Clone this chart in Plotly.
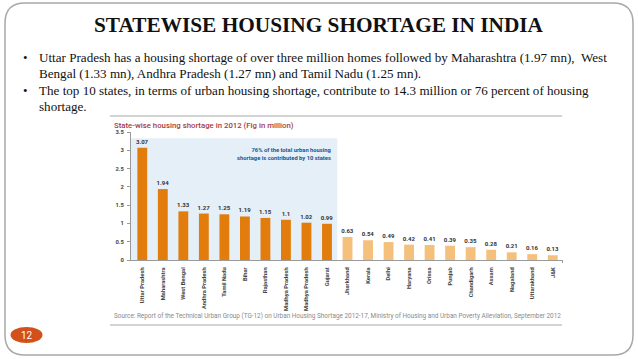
import plotly.graph_objects as go

states = ["Uttar Pradesh", "Maharashtra", "West Bengal", "Andhra Pradesh", "Tamil Nadu",
          "Bihar", "Rajasthan", "Madhya Pradesh", "Madhya Pradesh", "Gujarat",
          "Jharkhand", "Kerala", "Delhi", "Haryana", "Orissa", "Punjab",
          "Chandigarh", "Assam", "Nagaland", "Uttarakhand", "J&K"]
shortage = [3.07, 1.94, 1.33, 1.27, 1.25, 1.19, 1.15, 1.1, 1.02, 0.99,
            0.63, 0.54, 0.49, 0.42, 0.41, 0.39, 0.35, 0.28, 0.21, 0.16, 0.13]
top_n = 10
y_ticks = [0, 0.5, 1, 1.5, 2, 2.5, 3, 3.5]
y_tick_labels = ["0", "0.5", "1", "1.5", "2", "2.5", "3", "3.5"]

slide_title = "STATEWISE HOUSING SHORTAGE IN INDIA"
bullet_lines = [
    "Uttar Pradesh has a housing shortage of over three million homes followed by Maharashtra (1.97 mn),  West",
    "Bengal (1.33 mn), Andhra Pradesh (1.27 mn) and Tamil Nadu (1.25 mn).",
    "The top 10 states, in terms of urban housing shortage, contribute to 14.3 million or 76 percent of housing",
    "shortage.",
]
chart_title = "State-wise housing shortage in 2012 (Fig in million)"
callout = "76% of the total urban housing<br>shortage is contributed by 10 states"
source = ("Source: Report of the Technical Urban Group (TG-12) on Urban Housing Shortage 2012-17, "
          "Ministry of Housing and Urban Poverty Alleviation, September 2012")
page_no = "12"

W, H = 638, 359
L, R, T, B = 131, 75, 132, 99
PW, PH = W - L - R, H - T - B


def px(x):
    return (x - L) / PW


def py(y):
    return (H - B - y) / PH


idx = list(range(len(states)))
colors = ["#E27C0C" if i < top_n else "#F4C07C" for i in idx]

fig = go.Figure()
fig.add_trace(go.Bar(
    x=idx, y=shortage, marker=dict(color=colors, line=dict(width=0)),
    width=0.48,
    text=[f"{v:g}" for v in shortage], textposition="outside",
    textfont=dict(family="Roboto", size=6, color="#333333"),
    texttemplate="<b>%{text}</b>",
    constraintext="none", cliponaxis=False, hoverinfo="skip",
))

shapes = [
    dict(type="rect", xref="x", yref="y", x0=-0.55, x1=top_n - 0.5, y0=0, y1=3.33,
         fillcolor="#E4EFF8", line=dict(width=0), layer="below"),
    dict(type="line", xref="paper", yref="paper", x0=px(110), x1=px(562), y0=py(116), y1=py(116),
         line=dict(color="#D3D3D3", width=2)),
    dict(type="line", xref="paper", yref="paper", x0=px(110), x1=px(562), y0=py(325), y1=py(325),
         line=dict(color="#D3D3D3", width=2)),
    dict(type="line", xref="paper", yref="paper", x0=px(562.5), x1=px(562.5), y0=py(260), y1=py(263),
         line=dict(color="#9A9A9A", width=1)),
    dict(type="circle", xref="paper", yref="paper", x0=px(10.5), x1=px(42.5), y0=py(343), y1=py(327),
         fillcolor="#D4501A", line=dict(width=0)),
]

x0, x1, y0, y1, rr = 5, 633, 3, 355, 20
pts = [
    ("M", x0 + rr, y0), ("L", x1 - rr, y0), ("Q", x1, y0, x1, y0 + rr), ("L", x1, y1 - rr),
    ("Q", x1, y1, x1 - rr, y1), ("L", x0 + rr, y1), ("Q", x0, y1, x0, y1 - rr),
    ("L", x0, y0 + rr), ("Q", x0, y0, x0 + rr, y0),
]
path = ""
for p in pts:
    cmd = p[0]
    coords = p[1:]
    s = []
    for k in range(0, len(coords), 2):
        s.append(f"{px(coords[k]):.5f},{py(coords[k + 1]):.5f}")
    path += cmd + " ".join(s) + " "
path += "Z"
shapes.append(dict(type="path", xref="paper", yref="paper", path=path,
                   line=dict(color="#A8A8A8", width=1.5)))

annotations = [
    dict(text=f"<b>{slide_title}</b>", x=px(318.5), y=py(25), xanchor="center", yanchor="middle",
         font=dict(family="Liberation Serif", size=21.3, color="#111111")),
    dict(text=chart_title, x=px(112), y=py(125), xanchor="left", yanchor="middle",
         font=dict(family="Roboto", size=7.8, color="#A83A3E", weight=500)),
    dict(text=f"<b>{callout}</b>", x=px(333), y=py(154), xanchor="right", yanchor="middle",
         align="right", font=dict(family="Roboto", size=5.8, color="#23548F")),
    dict(text=source, x=px(112), y=py(316), xanchor="left", yanchor="middle",
         font=dict(family="Roboto", size=6.4, color="#8A8A8A")),
    dict(text=page_no, x=px(26.5), y=py(335), xanchor="center", yanchor="middle",
         font=dict(family="Roboto", size=10, color="white")),
]
line_y = [57, 73, 90, 106]
for i, (txt, yy) in enumerate(zip(bullet_lines, line_y)):
    annotations.append(dict(text=txt, x=px(37), y=py(yy), xanchor="left", yanchor="middle",
                            font=dict(family="Liberation Serif", size=13.1, color="#111111")))
    if i in (0, 2):
        annotations.append(dict(text="•", x=px(25), y=py(yy), xanchor="center", yanchor="middle",
                                font=dict(family="Liberation Serif", size=13, color="#111111")))
for a in annotations:
    a.update(xref="paper", yref="paper", showarrow=False)

fig.update_layout(
    width=W, height=H, margin=dict(l=L, r=R, t=T, b=B, autoexpand=False),
    paper_bgcolor="white", plot_bgcolor="white", showlegend=False,
    shapes=shapes, annotations=annotations, bargap=0.5,
    xaxis=dict(range=[-0.55, 20.5], tickmode="array", tickvals=idx, ticktext=[f"<b>{s}</b>" for s in states],
               tickangle=-90, tickfont=dict(family="Roboto", size=5.8, color="#444444"),
               showline=True, linecolor="#9A9A9A", linewidth=1, ticks="", showgrid=False,
               zeroline=False, ticklabelstandoff=4, fixedrange=True),
    yaxis=dict(range=[0, 3.5], tickmode="array", tickvals=y_ticks,
               ticktext=[f"<b>{s}</b>" for s in y_tick_labels],
               tickfont=dict(family="Roboto", size=5.8, color="#444444"),
               showline=True, linecolor="#9A9A9A", linewidth=1, ticks="outside", ticklen=3,
               tickcolor="#9A9A9A", showgrid=False, zeroline=False, ticklabelstandoff=2,
               fixedrange=True),
)

fig.write_html("out.html", config={"displayModeBar": False, "staticPlot": True},
               post_script="document.body.style.margin='0';document.body.style.overflow='hidden';")
